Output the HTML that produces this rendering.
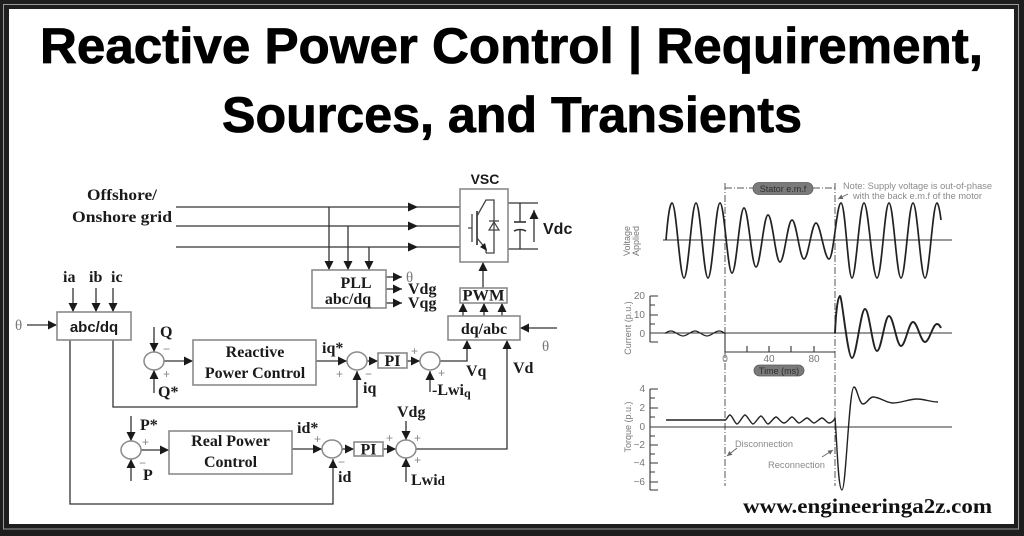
<!DOCTYPE html>
<html><head><meta charset="utf-8"><style>
html,body{margin:0;padding:0;width:1024px;height:536px;overflow:hidden;background:#1e1e1e}
svg{display:block}
.s{font-family:"Liberation Serif",serif;font-weight:bold;font-size:16px;fill:#1a1a1a}
.ss{font-family:"Liberation Sans",sans-serif;font-weight:bold;fill:#1a1a1a}
.pm{font-family:"Liberation Sans",sans-serif;font-size:12px;fill:#888}
.th{font-family:"Liberation Serif",serif;font-size:15px;fill:#777}
.gl{font-family:"Liberation Sans",sans-serif;font-size:9px;fill:#777}
.gt{font-family:"Liberation Sans",sans-serif;font-size:9.5px;fill:#666}
</style></head><body>
<svg width="1024" height="536" viewBox="0 0 1024 536" xmlns="http://www.w3.org/2000/svg">
<defs>
<marker id="a" markerUnits="userSpaceOnUse" markerWidth="10" markerHeight="9" refX="9" refY="4.5" orient="auto">
<path d="M0,0 L9,4.5 L0,9 z" fill="#1a1a1a"/>
</marker>
<marker id="sm" markerUnits="userSpaceOnUse" markerWidth="6" markerHeight="5" refX="5" refY="2.5" orient="auto">
<path d="M0,0 L5,2.5 L0,5 z" fill="#666"/>
</marker>
</defs>
<!-- frame -->
<rect x="0" y="0" width="1024" height="536" fill="#1e1e1e"/>
<rect x="3.5" y="4.5" width="1015" height="524.5" fill="none" stroke="#9a9a9a" stroke-width="1"/>
<rect x="9" y="9" width="1005" height="515" fill="#fff"/>

<!-- title -->
<text x="40" y="63" textLength="943" lengthAdjust="spacingAndGlyphs" font-family="Liberation Sans, sans-serif" font-weight="bold" font-size="50" fill="#000" stroke="#000" stroke-width="0.8">Reactive Power Control | Requirement,</text>
<text x="222" y="132" textLength="580" lengthAdjust="spacingAndGlyphs" font-family="Liberation Sans, sans-serif" font-weight="bold" font-size="50" fill="#000" stroke="#000" stroke-width="0.8">Sources, and Transients</text>

<!-- ============ LEFT DIAGRAM ============ -->
<text class="s" x="122" y="200" text-anchor="middle" textLength="70" lengthAdjust="spacingAndGlyphs" font-size="16.5">Offshore/</text>
<text class="s" x="122" y="222" text-anchor="middle" textLength="100" lengthAdjust="spacingAndGlyphs" font-size="16.5">Onshore grid</text>

<g fill="none" stroke="#333" stroke-width="1.3">
<path d="M176,207H460 M176,226H460 M176,247H460"/>
<path d="M329,207V270" marker-end="url(#a)"/>
<path d="M348,226V270" marker-end="url(#a)"/>
<path d="M369,247V270" marker-end="url(#a)"/>
<path d="M386,277H402" marker-end="url(#a)"/>
<path d="M386,289H402" marker-end="url(#a)"/>
<path d="M386,303H402" marker-end="url(#a)"/>
<!-- dc side -->
<path d="M508,203H538 M508,249H538 M520,203V222 M520,230V249"/>
<path d="M514,222H526" stroke-width="1.6"/>
<path d="M514,231Q520,228 526,231" stroke-width="1.6"/>
<path d="M534,242V210" marker-end="url(#a)"/>
<!-- PWM to VSC -->
<path d="M483,288V262" marker-end="url(#a)"/>
<path d="M463,316V303" marker-end="url(#a)"/>
<path d="M484,316V303" marker-end="url(#a)"/>
<path d="M502,316V303" marker-end="url(#a)"/>
<path d="M557,328H520" marker-end="url(#a)"/>
<!-- abc/dq inputs -->
<path d="M27,325H57" marker-end="url(#a)"/>
<path d="M73,288V312" marker-end="url(#a)"/>
<path d="M96,288V312" marker-end="url(#a)"/>
<path d="M113,288V312" marker-end="url(#a)"/>
<!-- feedback lines -->
<path d="M70,340V504H333V459" marker-end="url(#a)"/>
<path d="M113,340V407H357V371" marker-end="url(#a)"/>
<!-- reactive branch -->
<path d="M154,327V352" marker-end="url(#a)"/>
<path d="M154,393V370" marker-end="url(#a)"/>
<path d="M164,361H193" marker-end="url(#a)"/>
<path d="M316,361H347" marker-end="url(#a)"/>
<path d="M367,361H378" marker-end="url(#a)"/>
<path d="M407,361H420" marker-end="url(#a)"/>
<path d="M430,392V371" marker-end="url(#a)"/>
<path d="M440,361H467V340" marker-end="url(#a)"/>
<!-- real branch -->
<path d="M131,416V441" marker-end="url(#a)"/>
<path d="M131,481V459" marker-end="url(#a)"/>
<path d="M141,450H169" marker-end="url(#a)"/>
<path d="M292,449H322" marker-end="url(#a)"/>
<path d="M342,449H354" marker-end="url(#a)"/>
<path d="M383,449H396" marker-end="url(#a)"/>
<path d="M406,421V440" marker-end="url(#a)"/>
<path d="M406,482V458" marker-end="url(#a)"/>
<path d="M416,449H507V340" marker-end="url(#a)"/>
</g>
<!-- grid arrowheads -->
<g fill="#1a1a1a">
<polygon points="418,207 408,202.5 408,211.5"/>
<polygon points="418,226 408,221.5 408,230.5"/>
<polygon points="418,247 408,242.5 408,251.5"/>
</g>

<!-- boxes -->
<g fill="none" stroke="#8a8a8a" stroke-width="1.6">
<rect x="312" y="270" width="74" height="38"/>
<rect x="460" y="189" width="48" height="73"/>
<rect x="460" y="288" width="47" height="15"/>
<rect x="448" y="316" width="72" height="24"/>
<rect x="57" y="312" width="74" height="28"/>
<rect x="193" y="340" width="123" height="45"/>
<rect x="378" y="353" width="29" height="15"/>
<rect x="169" y="431" width="123" height="43"/>
<rect x="354" y="442" width="29" height="14"/>
</g>
<g fill="#fff" stroke="#8a8a8a" stroke-width="1.5">
<ellipse cx="154" cy="361" rx="10" ry="9"/>
<ellipse cx="357" cy="361" rx="10" ry="9"/>
<ellipse cx="430" cy="361" rx="10" ry="9"/>
<ellipse cx="131" cy="450" rx="10" ry="9"/>
<ellipse cx="332" cy="449" rx="10" ry="9"/>
<ellipse cx="406" cy="449" rx="10" ry="9"/>
</g>

<!-- IGBT inside VSC -->
<g fill="none" stroke="#444" stroke-width="1.3">
<path d="M468,228H472 M472,214V242"/>
<path d="M477,211V245" stroke-width="1.8"/>
<path d="M477,216L486,200H494V253H486"/>
<path d="M477,238L486,249V253"/>
<path d="M489,221H499"/>
</g>
<polygon points="494,222 489,230 499,230" fill="none" stroke="#444" stroke-width="1.2"/>
<polygon points="487,251 480,247 485,243" fill="#1a1a1a"/>

<!-- diagram text -->
<text class="ss" x="485" y="184" text-anchor="middle" font-size="14">VSC</text>
<text class="ss" x="543" y="234" font-size="16">Vdc</text>
<text class="s" x="356" y="288" text-anchor="middle" font-size="16">PLL</text>
<text class="s" x="348" y="304" text-anchor="middle" font-size="16">abc/dq</text>
<text class="th" x="406" y="282">θ</text>
<text class="s" x="408" y="294">Vdg</text>
<text class="s" x="408" y="308">Vqg</text>
<text class="s" x="483.5" y="300.5" text-anchor="middle" font-size="14" textLength="42" lengthAdjust="spacingAndGlyphs">PWM</text>
<text class="s" x="484" y="334" text-anchor="middle" font-size="16">dq/abc</text>
<text class="th" x="542" y="351">θ</text>
<text class="th" x="15" y="330">θ</text>
<text class="ss" x="94" y="332" text-anchor="middle" font-size="15">abc/dq</text>
<text class="s" x="63" y="282">ia</text>
<text class="s" x="89" y="282">ib</text>
<text class="s" x="111" y="282">ic</text>
<text class="s" x="160" y="337">Q</text>
<text class="s" x="158" y="397">Q*</text>
<text class="pm" x="163" y="353">−</text>
<text class="pm" x="163" y="378">+</text>
<text class="s" x="255" y="357" text-anchor="middle" font-size="16.5">Reactive</text>
<text class="s" x="255" y="378" text-anchor="middle" font-size="16.5">Power Control</text>
<text class="s" x="322" y="353">iq*</text>
<text class="pm" x="336" y="378">+</text>
<text class="pm" x="365" y="378">−</text>
<text class="s" x="363" y="393">iq</text>
<text class="s" x="392.5" y="366" text-anchor="middle" font-size="15">PI</text>
<text class="pm" x="411" y="355">+</text>
<text class="pm" x="438" y="377">+</text>
<text class="s" x="432" y="395">-Lwi<tspan font-size="12" dy="2">q</tspan></text>
<text class="s" x="466" y="376">Vq</text>
<text class="s" x="513" y="373">Vd</text>
<text class="s" x="140" y="430">P*</text>
<text class="pm" x="142" y="446">+</text>
<text class="pm" x="139" y="467">−</text>
<text class="s" x="143" y="480">P</text>
<text class="s" x="230.5" y="446" text-anchor="middle" font-size="16.5">Real Power</text>
<text class="s" x="230.5" y="467" text-anchor="middle" font-size="16.5">Control</text>
<text class="s" x="297" y="433">id*</text>
<text class="pm" x="314" y="443">+</text>
<text class="pm" x="338" y="466">−</text>
<text class="s" x="338" y="482">id</text>
<text class="s" x="368.5" y="454.5" text-anchor="middle" font-size="15">PI</text>
<text class="pm" x="386" y="442">+</text>
<text class="pm" x="414" y="442">+</text>
<text class="pm" x="414" y="464">+</text>
<text class="s" x="397" y="417">Vdg</text>
<text class="s" x="411" y="485">Lwi<tspan font-size="13">d</tspan></text>

<!-- ============ RIGHT GRAPH ============ -->
<g fill="none" stroke="#555" stroke-width="1" stroke-dasharray="7 2 1 2">
<path d="M725,183V486 M835,183V486"/>
<path d="M725,188H753 M813,188H835"/>
</g>
<rect x="753" y="182.5" width="60" height="12" rx="6" fill="#7a7a7a" stroke="#5a5a5a" stroke-width="0.8"/>
<text class="gl" x="783" y="192" text-anchor="middle" style="fill:#2e2e2e">Stator e.m.f</text>
<text class="gt" x="843" y="189" textLength="149" lengthAdjust="spacingAndGlyphs" style="fill:#8a8a8a">Note: Supply voltage is out-of-phase</text>
<text class="gt" x="853" y="199" textLength="129" lengthAdjust="spacingAndGlyphs" style="fill:#8a8a8a">with the back e.m.f of the motor</text>
<path d="M848,194L838,199" stroke="#666" stroke-width="0.9" marker-end="url(#sm)"/>

<!-- axes -->
<g fill="none" stroke="#333" stroke-width="1.1">
<path d="M663,240H952"/>
<path d="M650,333H952"/>
<path d="M650,427H952"/>
<path d="M650,296V342 M650,296h8 M650,305h5 M650,315h8 M650,324h5 M650,333h8 M650,342h8"/>
<path d="M650,389V490 M650,389h8 M650,398h5 M650,408h8 M650,417h5 M650,427h8 M650,436h5 M650,445h8 M650,454h5 M650,463h8 M650,472h5 M650,482h8 M650,490h8"/>
<path d="M725,333V352H835 M747,352v-6 M769,352v-6 M791,352v-6 M814,352v-6"/>
</g>

<!-- axis labels -->
<g class="gl" text-anchor="end" style="font-size:10px">
<text x="645" y="299">20</text>
<text x="645" y="318">10</text>
<text x="645" y="337">0</text>
<text x="645" y="392">4</text>
<text x="645" y="411">2</text>
<text x="645" y="430">0</text>
<text x="645" y="448">−2</text>
<text x="645" y="466">−4</text>
<text x="645" y="485">−6</text>
</g>
<g class="gl" text-anchor="middle" style="font-size:10px">
<text x="725" y="362">0</text>
<text x="769" y="362">40</text>
<text x="814" y="362">80</text>
</g>
<rect x="754" y="365" width="50" height="11" rx="5.5" fill="#7a7a7a" stroke="#5a5a5a" stroke-width="0.8"/>
<text class="gl" x="779" y="374" text-anchor="middle" style="fill:#2e2e2e">Time (ms)</text>

<text class="gl" transform="translate(630,241) rotate(-90)" text-anchor="middle">Voltage</text>
<text class="gl" transform="translate(639,241) rotate(-90)" text-anchor="middle">Applied</text>
<text class="gl" transform="translate(631,328) rotate(-90)" text-anchor="middle">Current (p.u.)</text>
<text class="gl" transform="translate(631,427) rotate(-90)" text-anchor="middle">Torque (p.u.)</text>

<!-- waveforms -->
<g fill="none" stroke="#222" stroke-width="1.7" stroke-linejoin="round">
<path d="M666,240 Q669,203 672,203 C676.4,203 679.6,278 684,278 S691.6,203 696,203 S703.6,278 708,278 S715.6,203 720,203 S727.6,273 732,273 S739.6,208 744,208 S751.6,267 756,267 S763.6,215 768,215 S775.6,262 780,262 S787.6,220 792,220 S799.6,259 804,259 S811.6,223 816,223 S824.3,259 829,259 S836.6,203 841,203 S848,278 852,278 S859.6,203 864,203 S872.3,278 877,278 S884.6,203 889,203 S896.6,278 901,278 S908.6,203 913,203 S920.6,278 925,278 S932.6,203 937,203 C938.5,203 940,212 941,220"/>
<path d="M665,333.5 Q668,331 671,331 C675.4,331 678.6,336 683,336 S690.6,331 695,331 S702.6,336 707,336 S714.6,331 719,331 Q722,331 725,333.5" stroke-width="1.2"/>
<path d="M835,333 C836,310 838,296 840,296 S847.6,358 852,358 S860.6,309 865,309 S872.6,351 877,351 S884.6,316 889,316 S896.6,346 901,346 S908.6,322 913,322 S920.6,342 925,342 S932.6,324 937,324 C939,324 940,326 941,328" stroke-width="1.9"/>
<path d="M666,420 L725,420 C727,420 728,415 730,415 S735,424 737,424 S743,415 745,415 S751,424 753,424 S759,416 761,416 S766,424 768,424 S774,417 776,417 S781,423 784,423 S790,417 792,417 S797,423 799,423 S805,418 807,418 S812,423 814,423 S820,418 822,418 S827,423 829,423 C831,423 834,421 835,418 C837,440 838,490 842,490 C846,490 849,387 854,387 C857,387 859,404 863,404 C867,404 869,397 873,397 C880,397 886,403 893,403 C901,403 909,399 917,399 C925,399 930,402 938,402" stroke-width="1.4"/>
</g>

<text class="gt" x="735" y="447" textLength="58" lengthAdjust="spacingAndGlyphs" style="fill:#8a8a8a">Disconnection</text>
<path d="M737,448L727,456" stroke="#666" stroke-width="0.9" marker-end="url(#sm)"/>
<text class="gt" x="768" y="468" textLength="57" lengthAdjust="spacingAndGlyphs" style="fill:#8a8a8a">Reconnection</text>
<path d="M822,457L833,450" stroke="#666" stroke-width="0.9" marker-end="url(#sm)"/>

<text x="743" y="513" textLength="249" lengthAdjust="spacingAndGlyphs" font-family="Liberation Serif, serif" font-weight="bold" font-size="21" fill="#111">www.engineeringa2z.com</text>
</svg>
</body></html>
